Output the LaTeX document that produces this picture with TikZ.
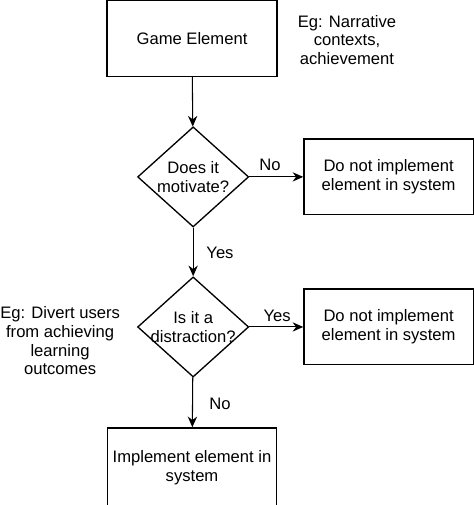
\documentclass[tikz,border=0pt]{standalone}
\usepackage{fontspec}
\setmainfont{Liberation Sans}
\usetikzlibrary{shapes.geometric,arrows.meta}

\begin{document}
\begin{tikzpicture}[
    font=\fontsize{12.5}{14}\selectfont,
    caja/.style={draw, line width=1pt, minimum width=4.48cm, minimum height=2cm, align=center},
    rombo/.style={draw, diamond, line width=1pt, minimum width=2.94cm, minimum height=2.65cm, inner sep=0pt},
    flecha/.style={line width=0.8pt, -{Stealth[length=8pt,width=7pt]}},
    nota/.style={align=center}
]

    \useasboundingbox (0,0) rectangle (12.54,13.36);

    % cajas
    \node[caja, minimum width=4.5cm] (elemento) at (5.08,12.34) {Game Element};
    \node[caja] (noimpl1) at (10.28,8.68) {Do not implement\\element in system};
    \node[caja] (noimpl2) at (10.28,4.71) {Do not implement\\element in system};
    \node[caja, minimum height=2.12cm] (impl) at (5.08,0.98) {Implement element in\\system};

    % rombos
    \node[rombo, label={[nota]center:Does it\\motivate?}] (motiva) at (5.11,8.68) {};
    \node[rombo, label={[nota]center:Is it a\\distraction?}] (distrae) at (5.11,4.71) {};

    % flechas
    \draw[flecha] (elemento) -- (motiva);
    \draw[flecha] (motiva) -- (noimpl1);
    \draw[flecha] (motiva) -- (distrae);
    \draw[flecha] (distrae) -- (noimpl2);
    \draw[flecha] (distrae) -- (impl);

    %leyendas
    \node (no1) at (7.14,9.00) {No};
    \node (si1) at (5.82,6.67) {Yes};
    \node (si2) at (7.33,5.00) {Yes};
    \node (no2) at (5.82,2.67) {No};
    \node[nota] (ej1) at (9.18,12.31) {Eg: Narrative\\contexts,\\achievement};
    \node[nota] (ej2) at (1.59,4.34) {Eg: Divert users\\from achieving\\learning\\outcomes};

\end{tikzpicture}
\end{document}
